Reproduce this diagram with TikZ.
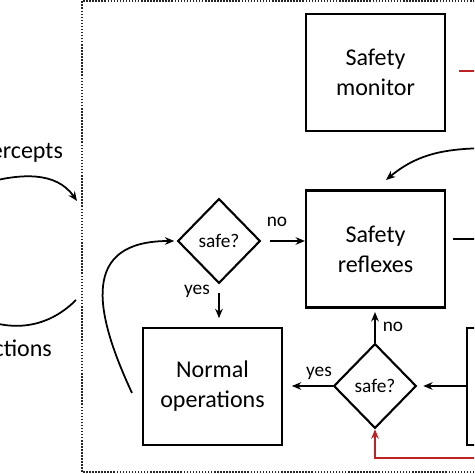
\documentclass[tikz,border=0pt]{standalone}
\usepackage{fontspec}
\setmainfont{Carlito}
\usetikzlibrary{shapes.geometric,arrows.meta}
\definecolor{monred}{RGB}{190,35,35}

\begin{document}
\begin{tikzpicture}[x=0.03cm,y=0.03cm,
    block/.style={draw,line width=1.8pt,minimum width=4.17cm,minimum height=3.51cm,align=center,font=\fontsize{20.5}{25.5}\selectfont},
    check/.style={draw,diamond,line width=1.8pt,inner sep=0pt,minimum width=2.48cm,minimum height=2.54cm,font=\fontsize{16.5}{19}\selectfont},
    lbl/.style={font=\fontsize{16.5}{19}\selectfont},
    arr/.style={line width=1.5pt,-{Stealth[length=8pt,width=6.5pt]}}]
    \useasboundingbox (0,0) rectangle (474,474);
    \clip (0,0) rectangle (474,474);
    %рамка
    \draw[line width=1.3pt,dash pattern=on 1.3pt off 1.3pt,black!85] (82,2) rectangle (520,473);

    \node[block] (monitor) at (375.5,401.5) {Safety\\monitor};
    \node[block] (reflex) at (375.5,225) {Safety\\reflexes};
    \node[block] (normal) at (212.5,87.5) {Normal\\operations};
    \node[block] (plant) at (536.5,87.5) {};
    \node[check] (checkA) at (219,233) {safe?};
    \node[check] (checkB) at (375,88) {safe?};

    \node[lbl] (noA) at (277,252) {no};
    \node[lbl] (yesA) at (197,183) {yes};
    \node[lbl] (noB) at (393,147) {no};
    \node[lbl] (yesB) at (319,101) {yes};

    \node[font=\fontsize{20.5}{25.5}\selectfont,anchor=base east] (percepts) at (67,315) {Percepts};
    \node[font=\fontsize{20.5}{25.5}\selectfont,anchor=base east] (actions) at (56,117) {Actions};

    %стрелки внутри
    \draw[arr,shorten <=7pt] (checkA.east) -- (checkA.east -| reflex.west);
    \draw[arr,shorten <=7.5pt,shorten >=7.5pt] (checkA.south) -- (checkA.south |- normal.north);
    \draw[arr,shorten >=3pt] (checkB.north) -- (checkB.north |- reflex.south);
    \draw[arr,shorten >=7.5pt] (checkB.west) -- (checkB.west -| normal.east);
    \draw[arr,shorten >=5pt] (plant.west |- checkB.east) -- (checkB.east);
    \draw[arr] ([xshift=-8.5pt,yshift=-5.5pt]normal.west) to [out=115,in=180,looseness=1.5] ([xshift=-2pt]checkA.west);

    \coordinate (fbout) at (500,326);
    \coordinate (fbin) at (386,294);
    \draw[arr] (fbout) to [out=180,in=40] (fbin);

    \coordinate (reflexout) at (520,235);
    \draw[line width=1.5pt,shorten <=6pt] (reflex.east |- reflexout) -- (reflexout);

    %красные
    \coordinate (monout) at (520,403);
    \draw[monred,line width=1.4pt,shorten <=11pt] (monitor.east |- monout) -- (monout);
    \coordinate (redin) at (520,16);
    \draw[arr,monred,line width=1.4pt] (redin) -- (redin -| checkB.south) -- (checkB.south);

    %снаружи
    \coordinate (pin) at (-15,291);
    \coordinate (pout) at (77,273);
    \draw[arr] (pin) to [out=15,in=125] (pout);
    \coordinate (ain) at (76,174);
    \coordinate (aout) at (-25,158);
    \draw[line width=1.5pt] (ain) to [out=225,in=-25] (aout);
\end{tikzpicture}
\end{document}
